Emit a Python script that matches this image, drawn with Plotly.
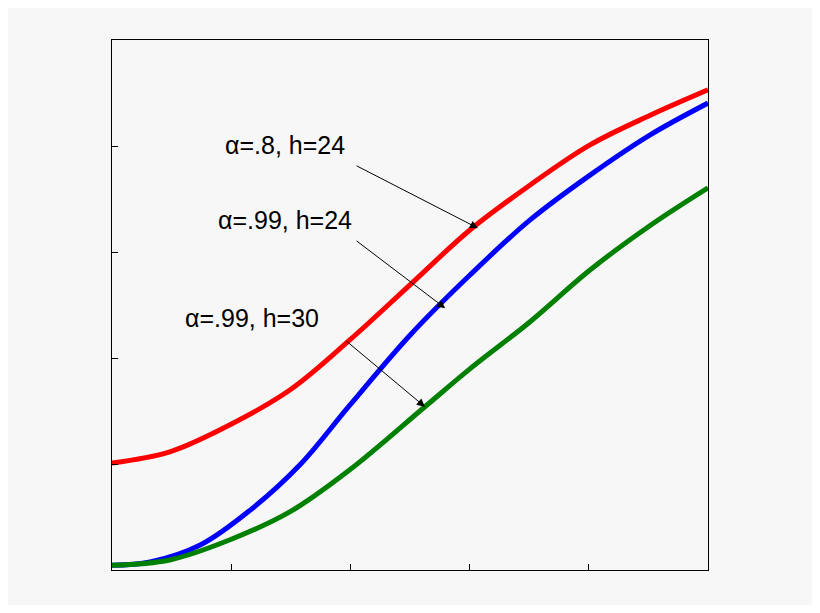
import plotly.graph_objects as go

red_x = [0, 0.097, 0.198, 0.299, 0.399, 0.500, 0.601, 0.701, 0.802, 0.903, 1.0]
red_y = [0.202, 0.223, 0.274, 0.340, 0.434, 0.538, 0.642, 0.726, 0.802, 0.858, 0.906]
blue_x = [0, 0.064, 0.148, 0.232, 0.315, 0.399, 0.500, 0.601, 0.701, 0.802, 0.903, 1.0]
blue_y = [0.009, 0.015, 0.047, 0.113, 0.198, 0.311, 0.443, 0.557, 0.660, 0.745, 0.821, 0.881]
green_x = [0, 0.097, 0.198, 0.299, 0.399, 0.525, 0.601, 0.701, 0.802, 0.903, 1.0]
green_y = [0.009, 0.019, 0.057, 0.110, 0.189, 0.308, 0.380, 0.468, 0.566, 0.650, 0.721]

labels = ['α=.8, h=24', 'α=.99, h=24', 'α=.99, h=30']
label_pos = [(0.290, 0.802), (0.290, 0.660), (0.235, 0.475)]
arrow_tail = [(0.408, 0.764), (0.408, 0.623), (0.391, 0.434)]
arrow_head = [(0.614, 0.645), (0.559, 0.494), (0.525, 0.308)]

fig = go.Figure()
for xs, ys, c in [(red_x, red_y, '#ff0000'), (blue_x, blue_y, '#0000ff'), (green_x, green_y, '#008000')]:
    fig.add_trace(go.Scatter(x=xs, y=ys, mode='lines', line=dict(color=c, width=5, shape='spline'),
                             showlegend=False))

for t, (tx, ty), (ax, ay), (hx, hy) in zip(labels, label_pos, arrow_tail, arrow_head):
    fig.add_annotation(x=tx, y=ty, text=t, showarrow=False, font=dict(size=25, color='black'))
    fig.add_annotation(x=hx, y=hy, ax=ax, ay=ay, xref='x', yref='y', axref='x', ayref='y',
                       text='', showarrow=True, arrowhead=2, arrowsize=1.6, arrowwidth=1, arrowcolor='black')

axis = dict(range=[0, 1], dtick=0.2, showgrid=False, zeroline=False, showline=True, mirror=True,
            linecolor='black', linewidth=1, ticks='inside', ticklen=6, tickcolor='black', showticklabels=False)
fig.update_xaxes(**axis)
fig.update_yaxes(**axis)
fig.update_layout(width=804, height=597, margin=dict(l=104, r=104, t=32, b=35),
                  paper_bgcolor='#f7f7f7', plot_bgcolor='#f7f7f7',
                  font=dict(family='Liberation Sans, Arial'))
fig.write_html('out.html')
